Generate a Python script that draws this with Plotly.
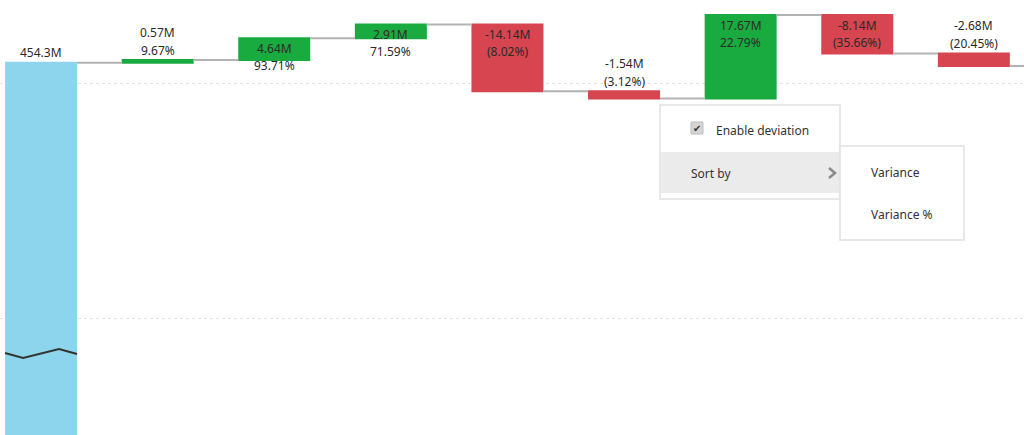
import plotly.graph_objects as go

# ---- data ----
categories = ["Start", "P1", "P2", "P3", "P4", "P5", "P6", "P7", "P8", "End"]
start_value = 454.3
deltas = [0.57, 4.64, 2.91, -14.14, -1.54, 17.67, -8.14, -2.68]
delta_pct = [9.67, 93.71, 71.59, -8.02, -3.12, 22.79, -35.66, -20.45]
menu_items = ["Enable deviation", "Sort by"]
submenu_items = ["Variance", "Variance %"]

# ---- style ----
FONT = "Segoe UI, Noto Sans, DejaVu Sans, sans-serif"
TXT = "#2b2a29"
BLUE = "#8dd5ec"
GREEN = "#1aab40"
RED = "#d64550"
W, H = 1024, 435

measures = ["absolute"] + ["relative"] * len(deltas) + ["total"]
yvals = [start_value] + deltas + [0]

fig = go.Figure()
fig.add_trace(go.Waterfall(
    x=categories, y=yvals, measure=measures,
    width=0.6175,
    increasing=dict(marker=dict(color=GREEN, line=dict(width=0))),
    decreasing=dict(marker=dict(color=RED, line=dict(width=0))),
    totals=dict(marker=dict(color=BLUE, line=dict(width=0))),
    connector=dict(line=dict(color="#b3b3b3", width=2)),
    hoverinfo="skip", showlegend=False,
))

annotations = []
def lab(x, y, text, shift):
    annotations.append(dict(x=x, y=y, xref="x", yref="y", text=text, showarrow=False,
                            yanchor="middle", xanchor="center", yshift=shift,
                            font=dict(family=FONT, size=12, color=TXT)))

lab(categories[0], start_value, f"{start_value:.1f}M", 10)
level = start_value
for i, (d, p) in enumerate(zip(deltas, delta_pct)):
    top = max(level, level + d)
    level += d
    vtxt = f"{d:.2f}M"
    ptxt = f"{p:.2f}%" if p >= 0 else f"({abs(p):.2f}%)"
    cat = categories[i + 1]
    if abs(d) > 2.8:
        lab(cat, top, vtxt, -10)
        lab(cat, top, ptxt, -27.5)
    else:
        lab(cat, top, vtxt, 27.5)
        lab(cat, top, ptxt, 10)

def px(x):
    return x / W

def py(y):
    return 1 - y / H

shapes = []
# axis-break zigzag on the start bar
shapes.append(dict(type="path", xref="x", yref="paper",
                   path=f"M -0.309,{py(353)} L -0.154,{py(358)} L 0.154,{py(349)} L 0.309,{py(354)}",
                   line=dict(color="#333333", width=2)))
# context menu
shapes.append(dict(type="rect", xref="paper", yref="paper", x0=px(660), x1=px(840), y0=py(199), y1=py(105),
                   fillcolor="white", line=dict(color="#e1e1e1", width=1.5)))
shapes.append(dict(type="rect", xref="paper", yref="paper", x0=px(661), x1=px(839), y0=py(193), y1=py(152),
                   fillcolor="#ebebeb", line=dict(width=0)))
shapes.append(dict(type="rect", xref="paper", yref="paper", x0=px(691), x1=px(703), y0=py(134), y1=py(122),
                   fillcolor="#d4d4d4", line=dict(color="#bdbdbd", width=1)))
shapes.append(dict(type="path", xref="paper", yref="paper",
                   path=f"M {px(829)},{py(168)} L {px(835)},{py(173)} L {px(829)},{py(178)}",
                   line=dict(color="#8a8a8a", width=2.5)))
# submenu
shapes.append(dict(type="rect", xref="paper", yref="paper", x0=px(840), x1=px(964), y0=py(240), y1=py(146),
                   fillcolor="white", line=dict(color="#e1e1e1", width=1.5)))

def mtxt(x, y, text, size=12, color="#333333"):
    annotations.append(dict(x=px(x), y=py(y), xref="paper", yref="paper", text=text, showarrow=False,
                            xanchor="left", yanchor="middle",
                            font=dict(family=FONT, size=size, color=color)))

annotations.append(dict(x=px(697), y=py(128), xref="paper", yref="paper", text="✔", showarrow=False,
                        xanchor="center", yanchor="middle", font=dict(family=FONT, size=10, color="#333333")))
mtxt(714, 130, menu_items[0])
mtxt(689, 173, menu_items[1])
mtxt(869, 172, submenu_items[0])
mtxt(869, 215, submenu_items[1])

fig.update_layout(
    width=W, height=H,
    margin=dict(l=0, r=0, t=0, b=0),
    paper_bgcolor="white", plot_bgcolor="white",
    xaxis=dict(type="category", range=[-0.352, 8.43], showticklabels=False, showgrid=False,
               zeroline=False, showline=False, ticks=""),
    yaxis=dict(range=[375.4, 467.6], tick0=0, dtick=50, showgrid=True, gridcolor="#e3e3e3",
               griddash="dot", gridwidth=1, showticklabels=False, zeroline=False, ticks=""),
    shapes=shapes, annotations=annotations,
    hovermode=False,
)

fig.write_html("out.html", config={"displayModeBar": False},
               post_script="document.body.style.margin='0';document.body.style.overflow='hidden';")
